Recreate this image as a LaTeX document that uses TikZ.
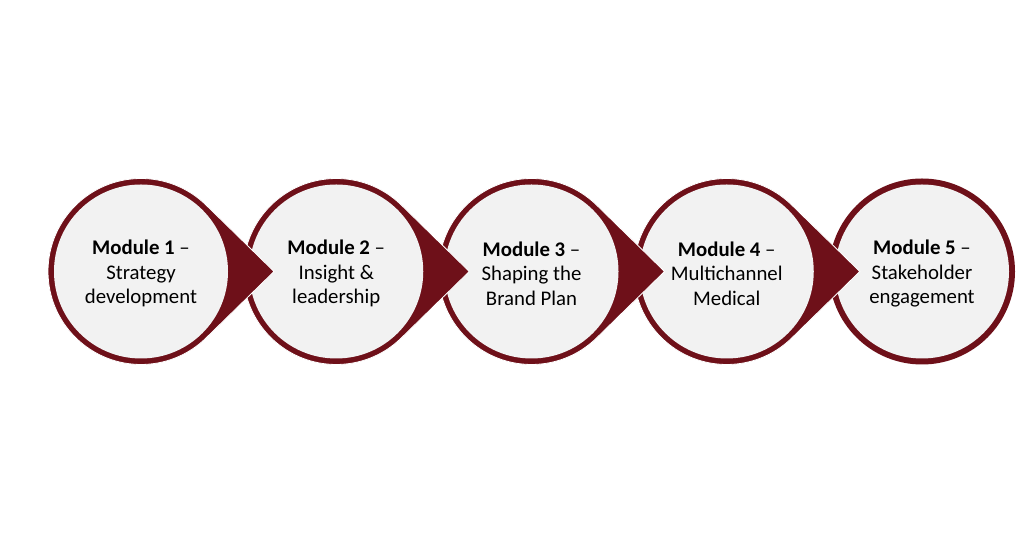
\documentclass[tikz,border=0pt]{standalone}
\usepackage{fontspec}
\setmainfont{Carlito}
\definecolor{maroon}{HTML}{6E1019}
\definecolor{lightgray}{HTML}{F2F2F2}
\tikzset{
  drop/.style={fill=maroon, draw=white, line width=0.8pt},
  disc/.style={fill=lightgray, draw=none},
  label/.style={align=center, font=\fontsize{20.8}{24.5}\selectfont, text=black}
}
\begin{document}
\begin{tikzpicture}[x=1pt,y=1pt]
\useasboundingbox[fill=white] (0,0) rectangle (1024,545);
\def\R{93}
\def\r{87}
% circle 5 (no tip)
\coordinate (c5) at (922,273.5);
\fill[maroon] (c5) circle (\R);
\fill[lightgray] (c5) circle (\r);
\node[label] (m5) at ([yshift=-2pt]c5) {\textbf{Module 5} –\\Stakeholder\\engagement};
% modules 4..1 with tips
\foreach \i/\x/\txt in {4/726.75/{\textbf{Module 4} –\\Multichannel\\Medical},
                       3/531.5/{\textbf{Module 3} –\\Shaping the\\Brand Plan},
                       2/336.25/{\textbf{Module 2} –\\Insight \&\\leadership},
                       1/141/{\textbf{Module 1} –\\Strategy\\development}}{
  \coordinate (c\i) at (\x,273.5);
  \coordinate (t\i) at (\x+133,273.5);
  \path[drop] (c\i) ++(45.65:\R) arc[start angle=45.65, end angle=314.35, radius=\R] -- (t\i) -- cycle;
  \fill[lightgray] (c\i) circle (\r);
  \node[label] (m\i) at ([yshift=-2pt]c\i) {\txt};
}
\end{tikzpicture}
\end{document}
